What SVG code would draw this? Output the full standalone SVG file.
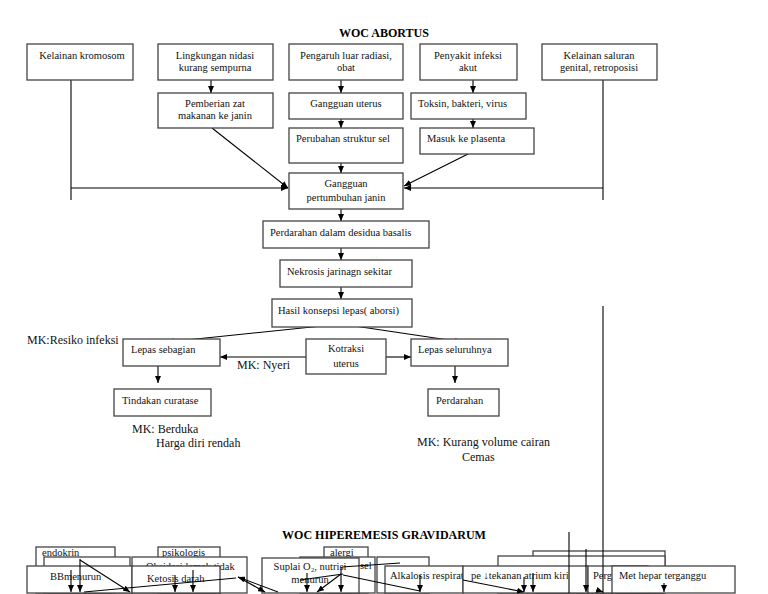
<svg xmlns="http://www.w3.org/2000/svg" width="768" height="594" viewBox="0 0 768 594">
<defs>
<marker id="ah" markerUnits="userSpaceOnUse" markerWidth="7" markerHeight="6" refX="7" refY="3" orient="auto">
<path d="M0,0 L7,3 L0,6 z" fill="#000"/>
</marker>
<style>
rect{fill:#fff;stroke:#444;stroke-width:1.3}
.t{font-family:"Liberation Serif","Times New Roman",serif;font-size:10.5px;fill:#111}
.c{text-anchor:middle}
.mk{font-family:"Liberation Serif","Times New Roman",serif;font-size:12px;fill:#111}
.h{font-family:"Liberation Serif","Times New Roman",serif;font-size:12px;font-weight:bold;fill:#000;text-anchor:middle}
.ln{stroke:#000;stroke-width:1.1;fill:none}
.ar{stroke:#000;stroke-width:1.1;fill:none;marker-end:url(#ah)}
</style>
</defs>
<rect x="0" y="0" width="768" height="594" style="fill:#fff;stroke:none"/>
<text class="h" x="384" y="37">WOC ABORTUS</text>

<g id="connectors">
<line class="ar" x1="211" y1="80" x2="211" y2="93"/>
<line class="ar" x1="341" y1="80" x2="341" y2="93"/>
<line class="ar" x1="341" y1="119" x2="341" y2="128"/>
<line class="ar" x1="341" y1="163" x2="341" y2="173"/>
<line class="ar" x1="473" y1="80" x2="473" y2="93"/>
<line class="ar" x1="473" y1="119" x2="473" y2="128"/>
<line class="ar" x1="212" y1="128" x2="288" y2="188"/>
<line class="ar" x1="472" y1="152" x2="404" y2="186"/>
<line class="ln" x1="71" y1="80" x2="71" y2="200"/>
<line class="ar" x1="71" y1="188" x2="288" y2="188"/>
<line class="ln" x1="603" y1="80" x2="603" y2="200"/>
<line class="ar" x1="603" y1="188" x2="404" y2="188"/>
<line class="ar" x1="341" y1="209" x2="341" y2="221"/>
<line class="ar" x1="341" y1="248" x2="341" y2="260"/>
<line class="ar" x1="341" y1="287" x2="341" y2="299"/>
<line class="ar" x1="341" y1="324" x2="167" y2="342"/>
<line class="ar" x1="341" y1="324" x2="462" y2="342"/>
<line class="ar" x1="306" y1="357" x2="220" y2="357"/>
<line class="ar" x1="386" y1="357" x2="411" y2="357"/>
<line class="ar" x1="158" y1="366" x2="158" y2="383"/>
<line class="ar" x1="455" y1="366" x2="455" y2="383"/>
</g>

<g id="n-kromosom"><rect x="27" y="44" width="106" height="36"/><text class="t c" x="82" y="59">Kelainan kromosom</text></g>
<g id="n-nidasi"><rect x="158" y="44" width="115" height="36"/><text class="t c" x="215" y="59">Lingkungan nidasi</text><text class="t c" x="215" y="71">kurang sempurna</text></g>
<g id="n-radiasi"><rect x="289" y="44" width="114" height="36"/><text class="t c" x="346" y="59">Pengaruh luar radiasi,</text><text class="t c" x="346" y="71">obat</text></g>
<g id="n-infeksi"><rect x="420" y="44" width="97" height="36"/><text class="t c" x="468" y="59">Penyakit infeksi</text><text class="t c" x="468" y="71">akut</text></g>
<g id="n-saluran"><rect x="542" y="44" width="115" height="36"/><text class="t c" x="599" y="59">Kelainan saluran</text><text class="t c" x="599" y="71">genital, retroposisi</text></g>
<g id="n-pemberian"><rect x="158" y="93" width="115" height="35"/><text class="t c" x="215" y="107">Pemberian zat</text><text class="t c" x="215" y="119">makanan ke janin</text></g>
<g id="n-uterus"><rect x="289" y="93" width="114" height="26"/><text class="t c" x="346" y="107">Gangguan uterus</text></g>
<g id="n-toksin"><rect x="411" y="93" width="115" height="26"/><text class="t" x="418" y="107">Toksin, bakteri, virus</text></g>
<g id="n-struktur"><rect x="289" y="128" width="114" height="35"/><text class="t" x="296" y="142">Perubahan struktur sel</text></g>
<g id="n-plasenta"><rect x="420" y="128" width="114" height="26"/><text class="t" x="427" y="142">Masuk ke plasenta</text></g>
<g id="n-pertumbuhan"><rect x="289" y="173" width="114" height="36"/><text class="t c" x="346" y="187">Gangguan</text><text class="t c" x="346" y="201">pertumbuhan janin</text></g>
<g id="n-desidua"><rect x="263" y="221" width="166" height="27"/><text class="t" x="270" y="236">Perdarahan dalam desidua basalis</text></g>
<g id="n-nekrosis"><rect x="280" y="260" width="132" height="27"/><text class="t" x="287" y="275">Nekrosis jarinagn sekitar</text></g>
<g id="n-hasil"><rect x="272" y="299" width="140" height="28"/><text class="t" x="278" y="314">Hasil konsepsi lepas( aborsi)</text></g>
<g id="n-sebagian"><rect x="123" y="339" width="97" height="27"/><text class="t" x="131" y="353">Lepas sebagian</text></g>
<g id="n-kontraksi"><rect x="306" y="339" width="80" height="35"/><text class="t c" x="346" y="352">Kotraksi</text><text class="t c" x="346" y="367">uterus</text></g>
<g id="n-seluruhnya"><rect x="411" y="339" width="97" height="27"/><text class="t" x="418" y="353">Lepas seluruhnya</text></g>
<g id="n-curatase"><rect x="114" y="389" width="97" height="27"/><text class="t" x="122" y="404">Tindakan curatase</text></g>
<g id="n-perdarahan"><rect x="428" y="389" width="71" height="27"/><text class="t" x="436" y="404">Perdarahan</text></g>

<g id="labels">
<text class="mk" x="27" y="344">MK:Resiko infeksi</text>
<text class="mk" x="237" y="369">MK: Nyeri</text>
<text class="mk" x="132" y="433">MK: Berduka</text>
<text class="mk" x="156" y="447">Harga diri rendah</text>
<text class="mk" x="417" y="446">MK: Kurang volume cairan</text>
<text class="mk" x="462" y="461">Cemas</text>
</g>

<text class="h" x="384" y="539">WOC HIPEREMESIS GRAVIDARUM</text>

<g id="h-endokrin"><rect x="36" y="547" width="79" height="46"/><text class="t" x="42" y="556">endokrin</text></g>
<g id="h-psikologis"><rect x="158" y="547" width="62" height="46"/><text class="t" x="162" y="556">psikologis</text></g>
<g id="h-alergi"><rect x="324" y="547" width="44" height="46"/><text class="t" x="330" y="556">alergi</text></g>
<g id="h-r1"><rect x="533" y="551" width="132" height="42"/></g>
<g id="h-r2"><rect x="498" y="556" width="167" height="37"/></g>
<g id="h-x"><rect x="377" y="557" width="52" height="36"/></g>
<g id="h-sel"><rect x="300" y="557" width="75" height="36"/><text class="t" x="360" y="569">sel</text></g>
<g id="h-gula"><rect x="44" y="557" width="86" height="36"/></g>
<g id="h-oksidasi"><rect x="132" y="557" width="115" height="36"/><text class="t" x="146" y="570">Oksidasi lemak tidak</text></g>
<g id="h-suplai"><rect x="262" y="558" width="97" height="35"/><text class="t c" x="310" y="570">Suplai O₂, nutrisi</text><text class="t c" x="310" y="583">menurun</text></g>
<g id="h-bb"><rect x="27" y="566" width="105" height="27"/><text class="t" x="50" y="580">BBmenurun</text></g>
<g id="h-ketosis"><rect x="132" y="566" width="88" height="27"/><text class="t" x="147" y="582">Ketosis darah</text></g>
<g id="h-alkalosis"><rect x="385" y="566" width="78" height="27"/><text class="t" x="390" y="579">Alkalosis respirat</text></g>
<g id="h-tekanan"><rect x="463" y="566" width="125" height="27"/><text class="t" x="471" y="579">pe  ↓tekanan atrium kiri</text></g>
<g id="h-perg"><rect x="588" y="566" width="60" height="27"/><text class="t" x="593" y="579">Perg</text></g>
<g id="h-hepar"><rect x="612" y="566" width="123" height="27"/><text class="t" x="619" y="579">Met hepar terganggu</text></g>

<g id="connectors-bottom">
<line class="ln" x1="603" y1="306" x2="603" y2="593"/>
<line class="ar" x1="71" y1="570" x2="71" y2="592"/>
<line class="ar" x1="80" y1="559" x2="80" y2="592"/>
<line class="ar" x1="80" y1="560" x2="130" y2="592"/>
<line class="ln" x1="84" y1="592" x2="236" y2="578"/>
<line class="ar" x1="175" y1="575" x2="175" y2="592"/>
<line class="ar" x1="193" y1="570" x2="193" y2="592"/>
<line class="ar" x1="278" y1="592" x2="238" y2="577"/>
<line class="ar" x1="238" y1="577" x2="265" y2="592"/>
<line class="ar" x1="307" y1="573" x2="307" y2="592"/>
<line class="ar" x1="341" y1="574" x2="317" y2="592"/>
<line class="ar" x1="341" y1="567" x2="341" y2="592"/>
<line class="ln" x1="300" y1="580" x2="343" y2="574"/>
<line class="ln" x1="342" y1="567" x2="400" y2="563"/>
<line class="ln" x1="343" y1="575" x2="420" y2="591"/>
<line class="ar" x1="420" y1="575" x2="420" y2="592"/>
<line class="ar" x1="463" y1="580" x2="524" y2="592"/>
<line class="ar" x1="524" y1="577" x2="524" y2="592"/>
<line class="ar" x1="533" y1="573" x2="533" y2="592"/>
<line class="ln" x1="569" y1="532" x2="569" y2="593"/>
<line class="ar" x1="586" y1="549" x2="586" y2="592"/>
<line class="ar" x1="597" y1="590" x2="603" y2="592"/>
<line class="ar" x1="664" y1="583" x2="664" y2="592"/>
</g>
</svg>
